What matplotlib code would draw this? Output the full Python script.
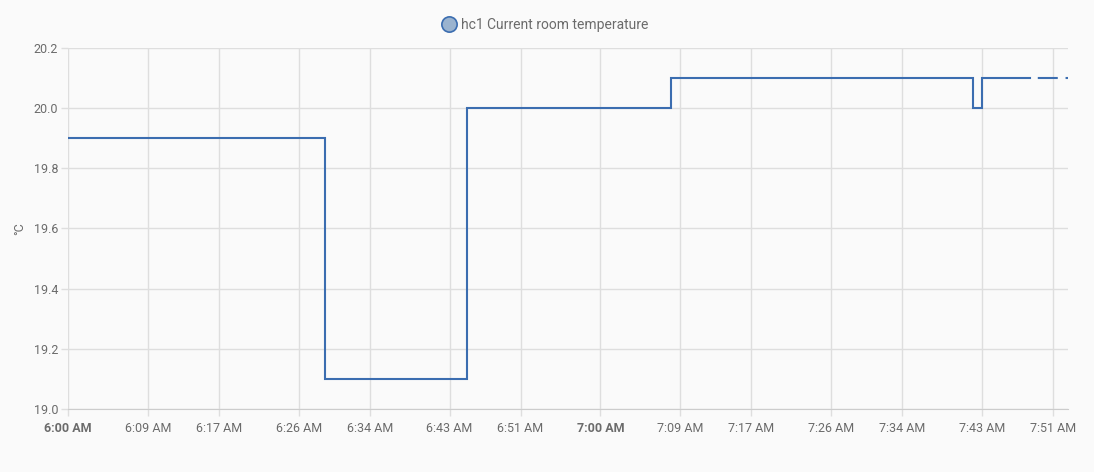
import matplotlib
matplotlib.use("Agg")
import matplotlib.pyplot as plt
from matplotlib.lines import Line2D

# ---- data ----
state_times = ["06:00:00", "06:29:00", "06:45:00", "07:08:00", "07:42:00", "07:43:00"]
state_values = [19.9, 19.1, 20.0, 20.1, 20.0, 20.1]
last_solid_time = "07:48:24"
end_time = "07:52:42"
series_name = "hc1 Current room temperature"
unit = "°C"
x_tick_labels = ["6:00 AM", "6:09 AM", "6:17 AM", "6:26 AM", "6:34 AM", "6:43 AM", "6:51 AM",
                 "7:00 AM", "7:09 AM", "7:17 AM", "7:26 AM", "7:34 AM", "7:43 AM", "7:51 AM"]
bold_labels = ["6:00 AM", "7:00 AM"]
y_ticks = [19.0, 19.2, 19.4, 19.6, 19.8, 20.0, 20.2]


def to_min(t):
    h, m, s = [int(v) for v in t.split(":")]
    return (h - 6) * 60 + m + s / 60.0


def label_to_min(lbl):
    hm = lbl.split()[0]
    h, m = [int(v) for v in hm.split(":")]
    return (h - 6) * 60 + m


xs = [to_min(t) for t in state_times]
x_solid_end = to_min(last_solid_time)
x_end = to_min(end_time)

plt.rcParams["font.family"] = ["Roboto", "DejaVu Sans"]
plt.rcParams["lines.scale_dashes"] = False

W, H = 1094, 472
fig = plt.figure(figsize=(W / 100, H / 100), dpi=100)
fig.patch.set_facecolor("#fafafa")
ax = fig.add_axes([68 / W, (H - 409) / H, 1000 / W, 361 / H])
ax.set_facecolor("#fafafa")

line_color = "#3b6db0"
grid_color = "#dedede"
text_color = "#6b6b6b"

# step line (solid part)
sx = xs + [x_solid_end]
sy = state_values + [state_values[-1]]
ax.step(sx, sy, where="post", color=line_color, lw=1.5, solid_joinstyle="miter")
# dashed tail
ax.plot([x_solid_end, x_end], [state_values[-1]] * 2, color=line_color, lw=1.5,
        linestyle=(14.4, (14.4, 5.6)))

ax.set_xlim(0, x_end)
ax.set_ylim(19.0, 20.2)

xt = [label_to_min(l) for l in x_tick_labels]
ax.set_xticks(xt)
ax.set_xticklabels(x_tick_labels)
for lbl in ax.get_xticklabels():
    if lbl.get_text() in bold_labels:
        lbl.set_fontweight("bold")
ax.set_yticks(y_ticks)
ax.set_yticklabels([f"{v:.1f}" for v in y_ticks])

ax.grid(True, color=grid_color, lw=1)
ax.set_axisbelow(True)
for s in ["top", "right", "left"]:
    ax.spines[s].set_visible(False)
ax.spines["bottom"].set_color("#cccccc")
ax.tick_params(axis="both", colors=grid_color, labelcolor=text_color, labelsize=9,
               length=5, width=1)
ax.tick_params(axis="y", pad=2)
ax.tick_params(axis="x", pad=4)

ax.set_ylabel(unit, color=text_color, fontsize=9)
ax.yaxis.set_label_coords(-0.042, 0.5)

# legend
handle = Line2D([], [], marker="o", linestyle="none", markersize=11,
                markerfacecolor="#9ab3cf", markeredgecolor=line_color, markeredgewidth=1.2)
fig.legend([handle], [series_name], loc="center", bbox_to_anchor=(546 / W, 1 - 25 / H),
           frameon=False, fontsize=10, labelcolor=text_color, handletextpad=0.5,
           handlelength=0.8)

fig.savefig("out.png", dpi=100, facecolor=fig.get_facecolor())
